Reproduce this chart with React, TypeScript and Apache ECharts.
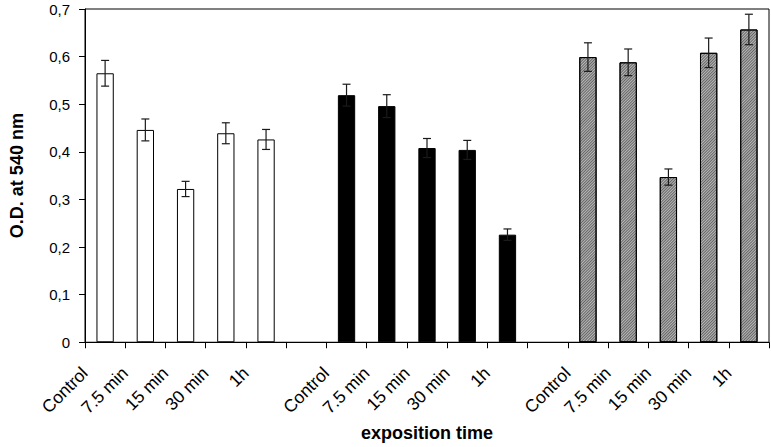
import React, { useEffect, useRef } from "react";
import * as echarts from "echarts";

const timeLabels = ["Control", "7.5 min", "15 min", "30 min", "1h"];
const group1Values = [0.565, 0.446, 0.322, 0.439, 0.426];
const group1Errors = [0.027, 0.023, 0.016, 0.022, 0.021];
const group2Values = [0.519, 0.496, 0.408, 0.404, 0.226];
const group2Errors = [0.023, 0.024, 0.02, 0.02, 0.012];
const group3Values = [0.599, 0.588, 0.347, 0.608, 0.657];
const group3Errors = [0.03, 0.028, 0.017, 0.031, 0.032];
const yTickLabels = ["0", "0,1", "0,2", "0,3", "0,4", "0,5", "0,6", "0,7"];

const FONT = "'Liberation Sans', Arial, sans-serif";

export default function App() {
  const ref = useRef<HTMLDivElement>(null);

  useEffect(() => {
    if (!ref.current) return;
    const chart = echarts.init(ref.current, undefined, { renderer: "svg" });

    const styles = [
      { color: "#ffffff", borderColor: "#000000", borderWidth: 1 },
      { color: "#000000", borderColor: "#000000", borderWidth: 1 },
      {
        color: "#b8b8b8",
        borderColor: "#000000",
        borderWidth: 1,
        decal: {
          symbol: "rect",
          color: "rgba(0,0,0,0.45)",
          dashArrayX: [1, 0],
          dashArrayY: [1, 1],
          rotation: -Math.PI / 4,
        },
      },
    ];
    const groups = [
      { v: group1Values, e: group1Errors },
      { v: group2Values, e: group2Errors },
      { v: group3Values, e: group3Errors },
    ];

    const categories: string[] = [];
    const barData: any[] = [];
    const errData: any[] = [];
    groups.forEach((g, gi) => {
      if (gi > 0) {
        categories.push("");
        barData.push("-");
      }
      timeLabels.forEach((lab, i) => {
        const idx = categories.length;
        categories.push(lab);
        barData.push({ value: g.v[i], itemStyle: styles[gi] });
        errData.push([idx, g.v[i], g.e[i]]);
      });
    });

    chart.setOption({
      animation: false,
      grid: {
        left: 69,
        right: 2,
        top: 9,
        bottom: 102,
        show: true,
        borderColor: "#000",
        borderWidth: 1,
      },
      xAxis: {
        type: "category",
        data: categories,
        name: "exposition time",
        nameLocation: "middle",
        nameGap: 81,
        nameTextStyle: { fontFamily: FONT, fontSize: 18, fontWeight: "bold", color: "#000" },
        axisLine: { lineStyle: { color: "#000", width: 1 } },
        axisTick: { show: true, interval: 0, length: 6, lineStyle: { color: "#000" } },
        axisLabel: {
          interval: 0,
          rotate: 45,
          margin: 20,
          padding: [0, 20, 0, 0],
          verticalAlign: "bottom",
          fontFamily: FONT,
          fontSize: 17.5,
          color: "#000",
        },
        splitLine: { show: false },
      },
      yAxis: {
        type: "value",
        min: 0,
        max: 0.7,
        interval: 0.1,
        name: "O.D. at 540 nm",
        nameLocation: "middle",
        nameGap: 59,
        nameTextStyle: { fontFamily: FONT, fontSize: 18, fontWeight: "bold", color: "#000" },
        axisLine: { show: true, lineStyle: { color: "#000", width: 1 } },
        axisTick: { show: true, length: 6, lineStyle: { color: "#000" } },
        axisLabel: {
          margin: 15,
          fontFamily: FONT,
          fontSize: 15,
          color: "#000",
          formatter: (val: number) => yTickLabels[Math.round(val * 10)] ?? "",
        },
        splitLine: { show: false },
      },
      series: [
        {
          type: "bar",
          data: barData,
          barWidth: "43%",
        },
        {
          type: "custom",
          data: errData,
          z: 10,
          renderItem: (params: any, api: any) => {
            const x = api.value(0);
            const v = api.value(1);
            const e = api.value(2);
            const hi = api.coord([x, v + e]);
            const lo = api.coord([x, v - e]);
            const hw = 4;
            const st = { stroke: "#1a1a1a", lineWidth: 1.2 };
            return {
              type: "group",
              children: [
                { type: "line", shape: { x1: hi[0], y1: hi[1], x2: lo[0], y2: lo[1] }, style: st },
                { type: "line", shape: { x1: hi[0] - hw, y1: hi[1], x2: hi[0] + hw, y2: hi[1] }, style: st },
                { type: "line", shape: { x1: lo[0] - hw, y1: lo[1], x2: lo[0] + hw, y2: lo[1] }, style: st },
              ],
            };
          },
        },
      ],
    });

    return () => chart.dispose();
  }, []);

  return (
    <div
      ref={ref}
      style={{ position: "fixed", left: 0, top: 0, width: 771, height: 447, background: "#fff" }}
    />
  );
}
